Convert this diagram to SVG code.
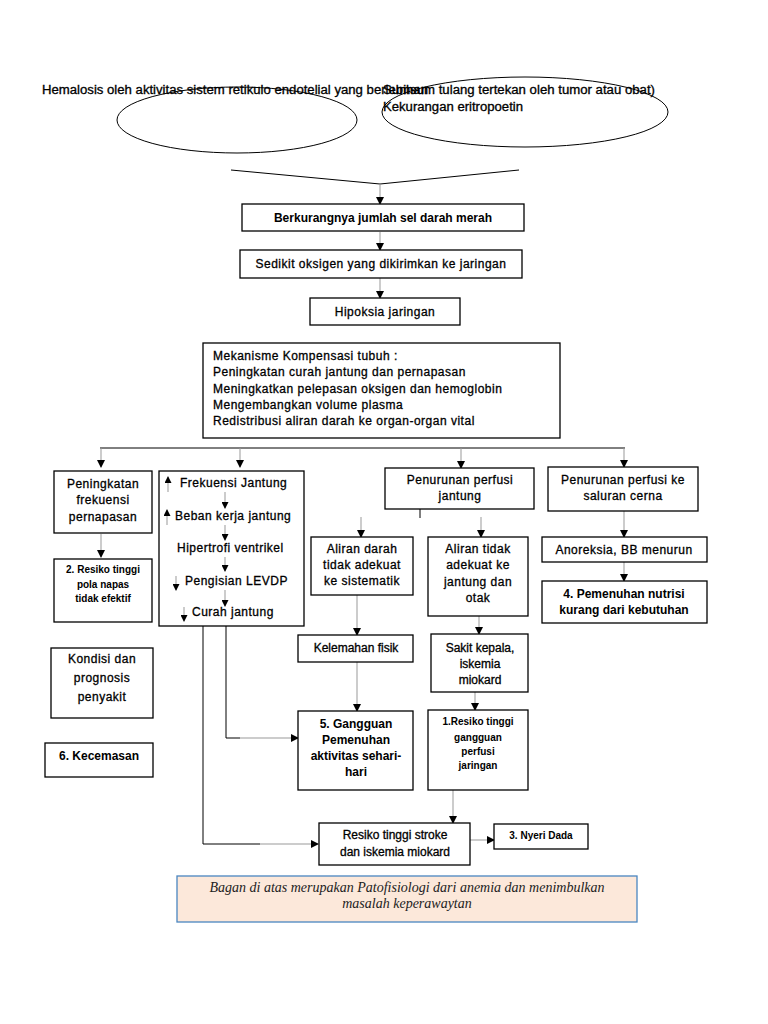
<svg xmlns="http://www.w3.org/2000/svg" width="768" height="1024" viewBox="0 0 768 1024">
<style>
.bx{fill:#fff;stroke:#000;stroke-width:1.3}
.el{fill:none;stroke:#000;stroke-width:1}
.t{font-family:"Liberation Sans",Arial,sans-serif;font-size:12px;fill:#000;stroke:#000;stroke-width:0.3}
.c{text-anchor:middle}
.b{font-weight:bold;stroke-width:0}
.s{font-size:10px;font-weight:bold;stroke-width:0}
.ls{letter-spacing:0.5px}
.cn{fill:none;stroke:#999;stroke-width:1}
.ck{fill:none;stroke:#000;stroke-width:1}
.foot{font-family:"Liberation Serif","Times New Roman",serif;font-style:italic;font-size:14px;fill:#222;text-anchor:middle}
</style>
<defs>
<marker id="ah" markerUnits="userSpaceOnUse" markerWidth="8" markerHeight="8" refX="7" refY="4" orient="auto">
<path d="M0,0 L8,4 L0,8 Z" fill="#000"/>
</marker>
<marker id="sh" markerUnits="userSpaceOnUse" markerWidth="7" markerHeight="7" refX="6" refY="3.5" orient="auto">
<path d="M0,0 L7,3.5 L0,7 Z" fill="#000"/>
</marker>
</defs>

<g id="causes">
<ellipse class="el" cx="237" cy="120" rx="120" ry="33"/>
<ellipse class="el" cx="525" cy="112" rx="143" ry="35"/>
<text class="t" x="42" y="94" textLength="386" lengthAdjust="spacingAndGlyphs">Hemalosis oleh aktivitas sistem retikulo endotelial yang berlebihan</text>
<text class="t" x="383" y="94" textLength="272" lengthAdjust="spacingAndGlyphs">Sumsum tulang tertekan oleh tumor atau obat)</text>
<text class="t" x="383" y="111" textLength="140" lengthAdjust="spacingAndGlyphs">Kekurangan eritropoetin</text>
</g>

<g id="connectors">
<polyline class="ck" points="231,170 380,184 519,170"/>
<line class="cn" x1="380" y1="184" x2="380" y2="204" marker-end="url(#ah)"/>
<line class="cn" x1="380" y1="232" x2="380" y2="250" marker-end="url(#ah)"/>
<line class="cn" x1="380" y1="278" x2="380" y2="298" marker-end="url(#ah)"/>
<line class="ck" x1="100" y1="448" x2="625" y2="448"/>
<line class="cn" x1="101" y1="448" x2="101" y2="467" marker-end="url(#ah)"/>
<line class="cn" x1="240" y1="448" x2="240" y2="467" marker-end="url(#ah)"/>
<line class="cn" x1="461" y1="448" x2="461" y2="468" marker-end="url(#ah)"/>
<line class="cn" x1="624" y1="448" x2="624" y2="467" marker-end="url(#ah)"/>
<line class="cn" x1="101" y1="534" x2="101" y2="557" marker-end="url(#ah)"/>
<polyline class="ck" points="203,626 203,844 260,844"/>
<line class="cn" x1="260" y1="844" x2="318" y2="844" marker-end="url(#ah)"/>
<polyline class="ck" points="226,626 226,738 240,738"/>
<line class="cn" x1="240" y1="738" x2="298" y2="738" marker-end="url(#ah)"/>
<line class="ck" x1="420" y1="509" x2="420" y2="518"/>
<line class="cn" x1="361" y1="517" x2="361" y2="537" marker-end="url(#ah)"/>
<line class="cn" x1="481" y1="517" x2="481" y2="537" marker-end="url(#ah)"/>
<line class="cn" x1="357" y1="595" x2="357" y2="635" marker-end="url(#ah)"/>
<line class="cn" x1="479" y1="616" x2="479" y2="634" marker-end="url(#ah)"/>
<line class="cn" x1="357" y1="662" x2="357" y2="711" marker-end="url(#ah)"/>
<line class="cn" x1="475" y1="692" x2="475" y2="710" marker-end="url(#ah)"/>
<line class="cn" x1="453" y1="790" x2="453" y2="823" marker-end="url(#ah)"/>
<line class="cn" x1="470" y1="840" x2="494" y2="840" marker-end="url(#ah)"/>
<line class="cn" x1="624" y1="511" x2="624" y2="537" marker-end="url(#ah)"/>
<line class="cn" x1="624" y1="562" x2="624" y2="581" marker-end="url(#ah)"/>
</g>

<g id="n-berkurang">
<rect class="bx" x="242" y="204" width="282" height="27"/>
<text class="t c b" x="383" y="222">Berkurangnya jumlah sel darah merah</text>
</g>
<g id="n-sedikit">
<rect class="bx" x="240" y="250" width="282" height="28"/>
<text class="t c ls" x="381" y="268">Sedikit oksigen yang dikirimkan ke jaringan</text>
</g>
<g id="n-hipoksia">
<rect class="bx" x="310" y="298" width="150" height="27"/>
<text class="t c ls" x="385" y="316">Hipoksia jaringan</text>
</g>
<g id="n-mekanisme">
<rect class="bx" x="203" y="343" width="357" height="95"/>
<text class="t ls" x="213" y="360">Mekanisme Kompensasi tubuh :</text>
<text class="t ls" x="213" y="376">Peningkatan curah jantung dan pernapasan</text>
<text class="t ls" x="213" y="393">Meningkatkan pelepasan oksigen dan hemoglobin</text>
<text class="t ls" x="213" y="409">Mengembangkan volume plasma</text>
<text class="t ls" x="213" y="425">Redistribusi aliran darah ke organ-organ vital</text>
</g>

<g id="n-peningkatan">
<rect class="bx" x="54" y="471" width="98" height="62"/>
<text class="t c ls" x="103" y="488">Peningkatan</text>
<text class="t c ls" x="103" y="504">frekuensi</text>
<text class="t c ls" x="103" y="521">pernapasan</text>
</g>
<g id="n-resiko2">
<rect class="bx" x="54" y="559" width="98" height="63"/>
<text class="t c s" x="103" y="573">2. Resiko tinggi</text>
<text class="t c s" x="103" y="588">pola napas</text>
<text class="t c s" x="103" y="602">tidak efektif</text>
</g>
<g id="n-frekuensi">
<rect class="bx" x="159" y="471" width="145" height="155"/>
<text class="t ls" x="180" y="487">Frekuensi Jantung</text>
<text class="t ls" x="175" y="520">Beban kerja jantung</text>
<text class="t ls" x="177" y="552">Hipertrofi ventrikel</text>
<text class="t ls" x="185" y="585">Pengisian LEVDP</text>
<text class="t ls" x="192" y="616">Curah jantung</text>
<line class="cn" x1="225" y1="492" x2="225" y2="508" marker-end="url(#sh)"/>
<line class="cn" x1="225" y1="525" x2="225" y2="540" marker-end="url(#sh)"/>
<line class="cn" x1="225" y1="557" x2="225" y2="571" marker-end="url(#sh)"/>
<line class="cn" x1="225" y1="590" x2="225" y2="606" marker-end="url(#sh)"/>
<line class="cn" x1="168" y1="492" x2="168" y2="477" marker-end="url(#sh)"/>
<line class="cn" x1="167" y1="525" x2="167" y2="510" marker-end="url(#sh)"/>
<line class="cn" x1="176" y1="576" x2="176" y2="590" marker-end="url(#sh)"/>
<line class="cn" x1="184" y1="607" x2="184" y2="621" marker-end="url(#sh)"/>
</g>
<g id="n-kondisi">
<rect class="bx" x="51" y="648" width="102" height="70"/>
<text class="t c ls" x="102" y="663">Kondisi dan</text>
<text class="t c ls" x="102" y="682">prognosis</text>
<text class="t c ls" x="102" y="701">penyakit</text>
</g>
<g id="n-kecemasan">
<rect class="bx" x="45" y="743" width="108" height="34"/>
<text class="t c b" x="99" y="760">6. Kecemasan</text>
</g>

<g id="n-perfusi-jantung">
<rect class="bx" x="385" y="468" width="149" height="41"/>
<text class="t c ls" x="460" y="484">Penurunan perfusi</text>
<text class="t c ls" x="460" y="500">jantung</text>
</g>
<g id="n-aliran-darah">
<rect class="bx" x="311" y="537" width="102" height="58"/>
<text class="t c ls" x="362" y="553">Aliran darah</text>
<text class="t c ls" x="362" y="569">tidak adekuat</text>
<text class="t c ls" x="362" y="585">ke sistematik</text>
</g>
<g id="n-aliran-tidak">
<rect class="bx" x="428" y="537" width="100" height="79"/>
<text class="t c ls" x="478" y="553">Aliran tidak</text>
<text class="t c ls" x="478" y="569">adekuat ke</text>
<text class="t c ls" x="478" y="586">jantung dan</text>
<text class="t c ls" x="478" y="602">otak</text>
</g>
<g id="n-kelemahan">
<rect class="bx" x="298" y="635" width="115" height="27"/>
<text class="t c" x="356" y="652">Kelemahan fisik</text>
</g>
<g id="n-sakit">
<rect class="bx" x="431" y="634" width="97" height="58"/>
<text class="t c" x="480" y="652">Sakit kepala,</text>
<text class="t c" x="480" y="668">iskemia</text>
<text class="t c" x="480" y="684">miokard</text>
</g>
<g id="n-gangguan5">
<rect class="bx" x="298" y="711" width="115" height="79"/>
<text class="t c b" x="356" y="728">5. Gangguan</text>
<text class="t c b" x="356" y="744">Pemenuhan</text>
<text class="t c b" x="356" y="760">aktivitas sehari-</text>
<text class="t c b" x="356" y="776">hari</text>
</g>
<g id="n-resiko1">
<rect class="bx" x="428" y="710" width="100" height="80"/>
<text class="t c s" x="478" y="725">1.Resiko tinggi</text>
<text class="t c s" x="478" y="741">gangguan</text>
<text class="t c s" x="478" y="755">perfusi</text>
<text class="t c s" x="478" y="769">jaringan</text>
</g>
<g id="n-stroke">
<rect class="bx" x="319" y="823" width="151" height="42"/>
<text class="t c" x="395" y="839">Resiko tinggi stroke</text>
<text class="t c" x="395" y="856">dan iskemia miokard</text>
</g>
<g id="n-nyeri">
<rect class="bx" x="494" y="824" width="94" height="25"/>
<text class="t c s" x="541" y="839">3. Nyeri Dada</text>
</g>

<g id="n-saluran">
<rect class="bx" x="548" y="467" width="150" height="44"/>
<text class="t c ls" x="623" y="484">Penurunan perfusi ke</text>
<text class="t c ls" x="623" y="500">saluran cerna</text>
</g>
<g id="n-anoreksia">
<rect class="bx" x="542" y="537" width="165" height="25"/>
<text class="t c ls" x="624" y="554">Anoreksia, BB menurun</text>
</g>
<g id="n-nutrisi">
<rect class="bx" x="542" y="581" width="165" height="42"/>
<text class="t c b" x="624" y="598">4. Pemenuhan nutrisi</text>
<text class="t c b" x="624" y="614">kurang dari kebutuhan</text>
</g>

<g id="caption">
<rect x="177" y="876" width="460" height="46" fill="#fce8da" stroke="#4a86c0" stroke-width="1.3"/>
<text class="foot" x="407" y="892">Bagan di atas merupakan Patofisiologi dari anemia dan menimbulkan</text>
<text class="foot" x="407" y="908">masalah keperawaytan</text>
</g>
</svg>
